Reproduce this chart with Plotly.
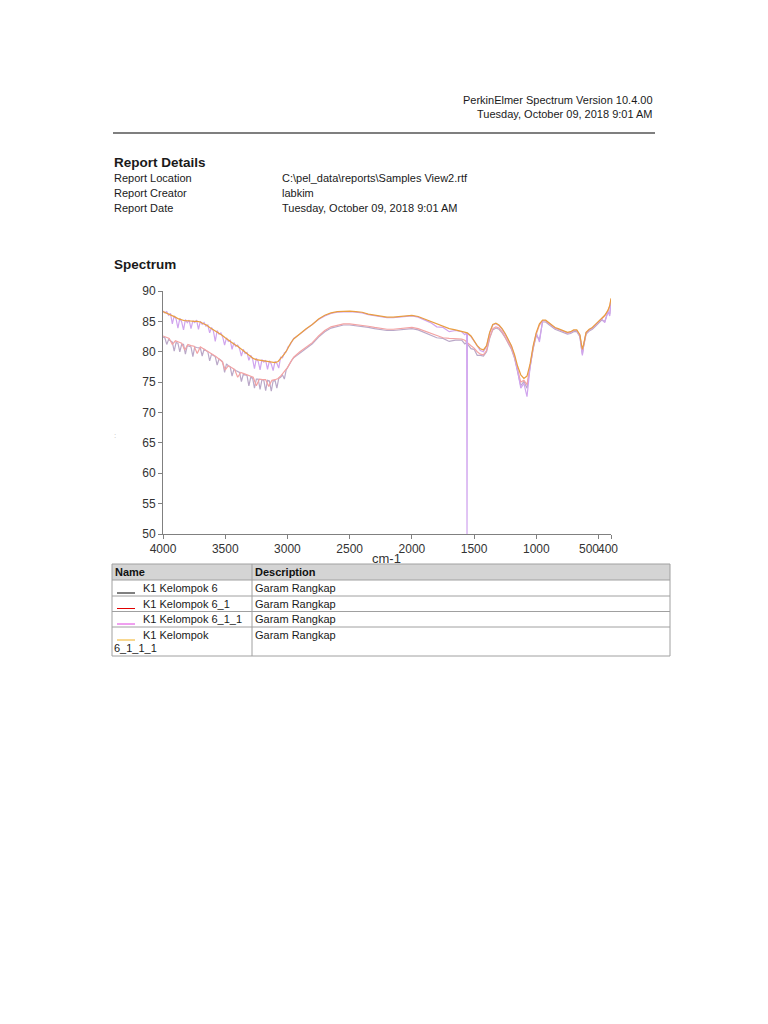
import plotly.graph_objects as go

# ---------------- data ----------------
# coarse grid (smooth series) and fine grid (noisy series) for 4000-2950 cm-1
wn_a = [4000, 3975, 3950, 3925, 3900, 3875, 3850, 3825, 3800, 3775, 3750, 3725, 3700, 3675, 3650,
        3625, 3600, 3575, 3550, 3525, 3500, 3475, 3450, 3425, 3400, 3375, 3350, 3325, 3300, 3275,
        3250, 3225, 3200, 3175, 3150, 3125, 3100, 3075, 3050, 3025, 3000, 2975, 2950]
wn_fine = [4000, 3985, 3970, 3955, 3940, 3925, 3910, 3895, 3880, 3865,
           3850, 3835, 3820, 3805, 3790, 3775, 3760, 3745, 3730, 3715,
           3700, 3685, 3670, 3655, 3640, 3625, 3610, 3595, 3580, 3565,
           3550, 3535, 3520, 3505, 3490, 3475, 3460, 3445, 3430, 3415,
           3400, 3385, 3370, 3355, 3340, 3325, 3310, 3295, 3280, 3265,
           3250, 3235, 3220, 3205, 3190, 3175, 3160, 3145, 3130, 3115,
           3100, 3085, 3070, 3055, 3040, 3025, 3010, 2995, 2980, 2965, 2950]
wn_b = [2900, 2850, 2800, 2750, 2700, 2650, 2600, 2550, 2500, 2450, 2400, 2350, 2300, 2250, 2200,
        2150, 2100, 2050, 2000, 1950, 1900, 1850, 1800, 1750, 1700, 1650]
wn_c = [1600, 1575, 1560, 1557, 1554, 1525, 1500, 1475, 1450, 1425, 1400, 1375, 1350, 1325, 1300,
        1275, 1250, 1225, 1200, 1175, 1150, 1125, 1100, 1075, 1050, 1025, 1000, 975, 950, 925,
        900, 875, 850, 825, 800, 775, 750, 725, 700, 675, 650, 640, 630, 620, 610,
        600, 575, 550, 525, 500, 475, 450, 425, 410, 400]

# K1 Kelompok 6 (black) - fine grid in region A
k6_a = [82.4, 82.3, 81.2, 82.0, 81.8, 81.6, 80.1, 81.5, 81.4, 80.0,
        81.2, 81.2, 79.6, 81.0, 80.9, 80.8, 79.2, 80.8, 80.7, 80.7,
        80.6, 79.3, 80.4, 80.2, 80.0, 78.5, 79.6, 79.4, 79.2, 77.8,
        78.8, 78.6, 78.3, 76.6, 78.0, 77.7, 77.5, 76.0, 77.1, 76.9,
        76.8, 76.6, 75.1, 76.3, 76.2, 76.1, 74.4, 75.8, 75.7, 74.0,
        75.5, 75.5, 73.8, 75.4, 75.3, 73.6, 75.3, 75.2, 73.5, 75.2,
        75.3, 74.0, 75.6, 75.8, 76.2, 75.5, 77.0, 77.6, 78.1, 78.6, 79.0]
k6_b = [79.8, 80.5, 81.3, 82.4, 83.3, 83.9, 84.2, 84.4, 84.4, 84.3, 84.2, 84.0, 83.8, 83.6, 83.5,
        83.5, 83.6, 83.7, 83.8, 83.6, 83.2, 82.8, 82.3, 82.2, 81.7, 81.9]
k6_c = [81.9, 81.3, 81.5, 81.4, 81.3, 80.5, 80.4, 79.4, 79.4, 79.3, 80.0, 82.2, 83.6, 83.9, 83.7,
        83.1, 82.3, 81.3, 80.4, 78.9, 76.6, 74.4, 75.1, 74.0, 77.5, 80.5, 82.7, 82.0, 84.9, 84.9,
        84.5, 84.1, 83.7, 83.5, 83.3, 83.1, 82.9, 83.0, 83.3, 83.3, 82.5, 80.9, 79.6, 80.9, 82.3,
        82.9, 83.4, 83.7, 84.2, 84.7, 85.2, 85.0, 86.5, 86.2, 88.4]

# K1 Kelompok 6_1 (red) - coarse grid in region A
k61_a = [82.6, 82.4, 82.2, 81.2, 81.8, 81.6, 81.4, 80.3, 81.2, 81.0, 80.9, 79.7, 80.8, 80.5, 80.2,
         79.9, 79.6, 79.2, 78.8, 78.4, 77.0, 77.7, 77.4, 77.1, 75.8, 76.6, 76.4, 76.2, 76.0, 75.8,
         74.4, 75.5, 75.4, 75.4, 74.3, 75.3, 75.4, 75.6, 76.1, 76.7, 77.4, 78.3, 79.1]
k61_b = [80.0, 80.7, 81.5, 82.6, 83.5, 84.1, 84.4, 84.6, 84.6, 84.5, 84.4, 84.2, 84.0, 83.8, 83.7,
         83.7, 83.8, 83.9, 84.0, 83.8, 83.4, 83.0, 82.7, 82.3, 82.2, 82.1]
k61_c = [82.1, 81.9, 81.7, 81.6, 81.5, 81.0, 80.6, 80.0, 79.6, 79.5, 80.2, 82.4, 83.8, 84.1, 83.9,
         83.3, 82.5, 81.5, 80.6, 79.1, 77.0, 75.0, 75.3, 74.6, 77.7, 80.7, 82.9, 84.4, 85.1, 85.1,
         84.7, 84.3, 83.9, 83.7, 83.5, 83.3, 83.1, 83.2, 83.5, 83.5, 82.7, 81.4, 80.0, 81.1, 82.5,
         83.1, 83.6, 83.9, 84.4, 84.9, 85.4, 85.9, 86.7, 87.5, 88.6]

# K1 Kelompok 6_1_1 (magenta) - fine grid in region A
k611_a = [86.7, 86.4, 86.6, 86.0, 86.3, 84.6, 85.9, 85.4, 83.9, 85.5,
          84.9, 83.6, 85.3, 84.8, 85.2, 83.8, 85.1, 84.8, 85.2, 83.7,
          85.0, 84.5, 84.8, 84.2, 84.4, 83.1, 84.0, 83.4, 81.7, 83.5,
          82.9, 83.1, 82.4, 81.1, 82.3, 81.7, 81.9, 80.4, 81.5, 80.9,
          81.1, 80.5, 79.3, 80.4, 79.7, 79.9, 78.6, 79.4, 78.8, 77.2,
          78.9, 78.4, 77.0, 78.7, 78.3, 78.6, 77.1, 78.5, 78.0, 76.9,
          78.4, 78.1, 77.3, 79.1, 79.0, 79.8, 80.0, 80.8, 81.1, 81.8, 82.2]
k611_b = [82.9, 83.7, 84.4, 85.3, 85.9, 86.3, 86.5, 86.6, 86.6, 86.5, 86.4, 86.1, 85.9, 85.7, 85.6,
          85.6, 85.7, 85.8, 85.9, 85.7, 85.3, 84.8, 84.1, 84.0, 83.3, 83.5]
k611_c = [83.3, 82.8, 83.1, 50.0, 83.0, 82.5, 81.7, 80.9, 80.2, 80.0, 80.9, 83.1, 84.4, 84.6, 84.3,
          83.7, 82.9, 81.9, 80.9, 79.2, 76.8, 74.0, 74.8, 72.6, 77.5, 80.8, 83.1, 81.6, 85.1, 85.1,
          84.7, 84.3, 83.9, 83.7, 83.5, 83.3, 83.1, 83.2, 83.5, 83.5, 82.6, 81.0, 79.4, 81.0, 82.5,
          83.1, 83.6, 83.9, 84.4, 84.9, 85.4, 84.8, 86.7, 85.9, 88.6]

# K1 Kelompok 6_1_1_1 (orange) - coarse grid in region A
k6111_a = [86.6, 86.4, 86.2, 86.0, 85.7, 85.4, 85.2, 85.1, 85.1, 85.0, 85.0, 85.0, 84.9, 84.6, 84.4,
           84.0, 83.7, 83.4, 83.1, 82.7, 82.3, 81.9, 81.5, 81.2, 80.9, 80.5, 80.1, 79.7, 79.3, 78.9,
           78.7, 78.6, 78.5, 78.4, 78.3, 78.2, 78.2, 78.4, 79.0, 79.6, 80.4, 81.4, 82.1]
k6111_b = [83.0, 83.8, 84.5, 85.4, 86.0, 86.4, 86.6, 86.7, 86.7, 86.6, 86.5, 86.2, 86.0, 85.8, 85.7,
           85.7, 85.8, 85.9, 86.0, 85.8, 85.4, 84.9, 84.5, 84.1, 83.8, 83.6]
k6111_c = [83.4, 83.3, 83.2, 83.2, 83.1, 82.6, 81.8, 81.0, 80.5, 80.3, 81.0, 83.2, 84.5, 84.7, 84.4,
           83.8, 83.0, 82.0, 81.0, 79.5, 77.6, 76.2, 75.6, 76.0, 78.0, 81.0, 83.2, 84.6, 85.2, 85.2,
           84.8, 84.4, 84.0, 83.8, 83.6, 83.4, 83.2, 83.3, 83.6, 83.6, 82.8, 81.5, 80.4, 81.2, 82.6,
           83.2, 83.7, 84.0, 84.5, 85.0, 85.5, 86.0, 86.8, 87.6, 88.8]

series_names = ["K1 Kelompok 6", "K1 Kelompok 6_1", "K1 Kelompok 6_1_1", "K1 Kelompok 6_1_1_1"]
series_x = [wn_fine + wn_b + wn_c, wn_a + wn_b + wn_c, wn_fine + wn_b + wn_c, wn_a + wn_b + wn_c]
series_values = [k6_a + k6_b + k6_c, k61_a + k61_b + k61_c,
                 k611_a + k611_b + k611_c, k6111_a + k6111_b + k6111_c]
line_colors = ["#baa8c8", "#f3a3a3", "#d0a4ee", "#e99e40"]
legend_colors = ["#000000", "#e00000", "#e040e0", "#f0b020"]
description = "Garam Rangkap"

x_tick_vals = [4000, 3500, 3000, 2500, 2000, 1500, 1000, 500, 400]
y_tick_vals = [50, 55, 60, 65, 70, 75, 80, 85, 90]

# ---------------- figure ----------------
W, H = 768, 1024
FONT = "Liberation Sans, Arial, sans-serif"


def px(x):
    return x / W


def py(y):
    return 1 - y / H


fig = go.Figure()
for name, xs, vals, col in zip(series_names, series_x, series_values, line_colors):
    fig.add_trace(go.Scatter(x=xs, y=vals, mode="lines", name=name,
                             line=dict(color=col, width=1.2), showlegend=False, hoverinfo="skip"))

tick_text = [str(v) if v not in (500, 400) else "" for v in x_tick_vals]

fig.update_layout(
    width=W, height=H, margin=dict(l=0, r=0, t=0, b=0, pad=0, autoexpand=False),
    paper_bgcolor="white", plot_bgcolor="white", showlegend=False,
    font=dict(family=FONT, color="#1a1a1a"),
    xaxis=dict(domain=[px(163), px(611)], range=[4000, 400], tickvals=x_tick_vals, automargin=False,
               ticktext=tick_text, tickangle=0, ticks="outside", ticklen=4, tickcolor="#808080",
               showline=True, linecolor="#808080", linewidth=1, showgrid=False, zeroline=False,
               tickfont=dict(size=12, color="#333333", family=FONT)),
    yaxis=dict(domain=[py(534), py(291)], range=[50, 90], tickvals=y_tick_vals, automargin=False,
               ticks="outside", ticklen=4, tickcolor="#808080",
               showline=True, linecolor="#808080", linewidth=1, showgrid=False, zeroline=False,
               tickfont=dict(size=12, color="#333333", family=FONT)),
)

ann = []


def text(x, y, s, size=11, anchor="left", bold=False, color="#1a1a1a"):
    ann.append(dict(x=px(x), y=py(y), xref="paper", yref="paper", text=("<b>%s</b>" % s) if bold else s,
                    showarrow=False, xanchor=anchor, yanchor="middle",
                    font=dict(size=size, color=color, family=FONT)))


# the close tick labels 500 / 400 placed beside their ticks (data x coordinates)
ann.append(dict(x=500, y=py(540), xref="x", yref="paper", text="500", showarrow=False, xshift=2,
                xanchor="right", yanchor="top", font=dict(size=12, color="#333333", family=FONT)))
ann.append(dict(x=400, y=py(540), xref="x", yref="paper", text="400", showarrow=False, xshift=-15,
                xanchor="left", yanchor="top", font=dict(size=12, color="#333333", family=FONT)))

text(655, 100, "PerkinElmer Spectrum Version 10.4.00", anchor="right")
text(655, 114, "Tuesday, October 09, 2018 9:01 AM", anchor="right")

text(112, 162, "Report Details", size=13.5, bold=True)
details_labels = ["Report Location", "Report Creator", "Report Date"]
details_values = ["C:\\pel_data\\reports\\Samples View2.rtf", "labkim", "Tuesday, October 09, 2018 9:01 AM"]
for i, (lab, val) in enumerate(zip(details_labels, details_values)):
    text(112, 178 + 15 * i, lab)
    text(280, 178 + 15 * i, val)

text(112, 264, "Spectrum", size=13.5, bold=True)
text(112, 435, ":", size=8, color="#c0c0c0")
text(386, 558, "cm-1", size=13, anchor="center", color="#333333")

# ---------------- header rule and table ----------------
shapes = []
shapes.append(dict(type="line", xref="paper", yref="paper", x0=px(113), x1=px(655), y0=py(133), y1=py(133),
                   line=dict(color="#555555", width=1.5)))
tl, tm, tr = 112, 252, 670
rows = [564, 580, 596, 611.5, 627, 656]
shapes.append(dict(type="rect", xref="paper", yref="paper", x0=px(tl), x1=px(tr), y0=py(rows[0]), y1=py(rows[1]),
                   fillcolor="#d4d4d4", line=dict(width=0)))
for r in rows:
    shapes.append(dict(type="line", xref="paper", yref="paper", x0=px(tl), x1=px(tr), y0=py(r), y1=py(r),
                       line=dict(color="#a0a0a0", width=1)))
for c in (tl, tm, tr):
    shapes.append(dict(type="line", xref="paper", yref="paper", x0=px(c), x1=px(c), y0=py(rows[0]), y1=py(rows[-1]),
                       line=dict(color="#a0a0a0", width=1)))

text(113, 572, "Name", bold=True, color="#111111")
text(253, 572, "Description", bold=True, color="#111111")
row_y = [588, 603.5, 619, 635]
for i, (name, col) in enumerate(zip(series_names, legend_colors)):
    shapes.append(dict(type="line", xref="paper", yref="paper", x0=px(117), x1=px(135),
                       y0=py(row_y[i] + 5), y1=py(row_y[i] + 5), line=dict(color=col, width=1)))
    if i < 3:
        text(141, row_y[i], name)
    else:
        text(141, row_y[i], "K1 Kelompok")
        text(112, row_y[i] + 13, "6_1_1_1")
    text(253, row_y[i], description)

fig.update_layout(annotations=ann, shapes=shapes)

fig.write_html("out.html", config={"displayModeBar": False},
               post_script="document.body.style.margin='0px';")
